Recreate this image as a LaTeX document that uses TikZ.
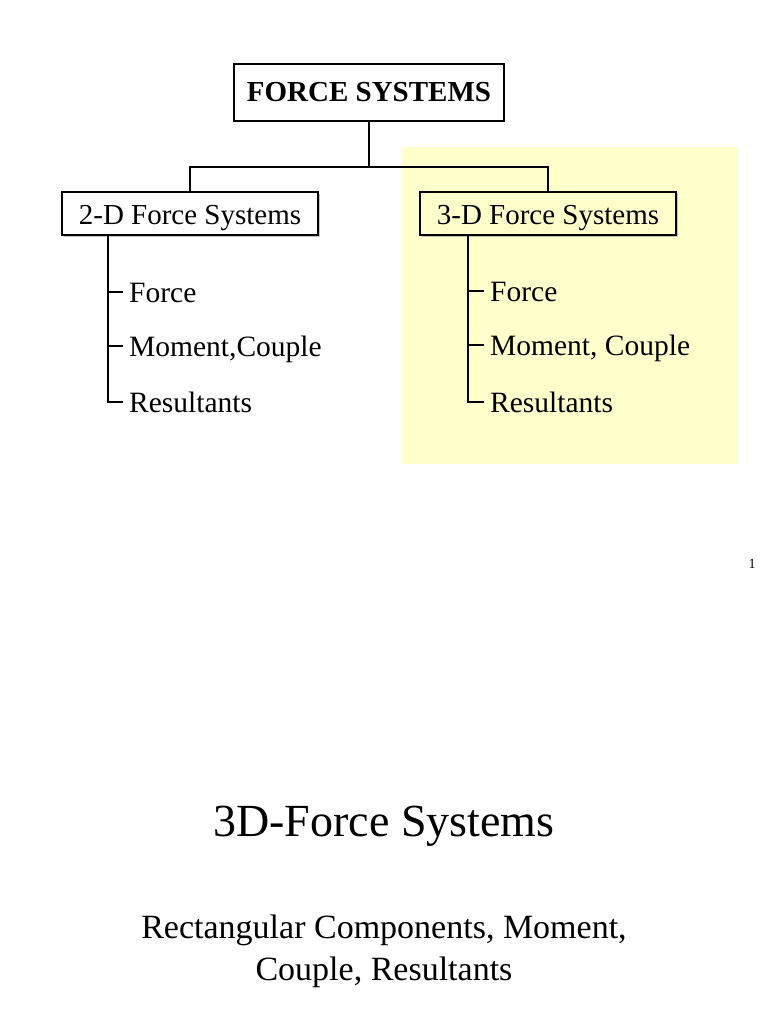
\documentclass[tikz,border=0pt]{standalone}
\usepackage{fontspec}
\setmainfont{Liberation Serif}
\usepackage{tikz}
\usetikzlibrary{positioning}
\usetikzlibrary{shadows}
\definecolor{yellowbg}{HTML}{FFFFCC}

\begin{document}
\begin{tikzpicture}[x=1pt, y=-1pt,
    head/.style={draw=black, line width=1.4pt, minimum width=270pt, minimum height=57pt, inner sep=0pt, font=\fontsize{29}{34}\selectfont\bfseries},
    sub/.style={draw=black, line width=1.4pt, minimum width=256pt, minimum height=43pt, inner sep=0pt, text height=22pt, text depth=0pt, font=\fontsize{29}{34}\selectfont, drop shadow={shadow xshift=2pt, shadow yshift=-2pt, fill=black!45}},
    item/.style={anchor=west, inner xsep=6pt, inner ysep=0pt, text height=20pt, text depth=0pt, font=\fontsize{29.5}{34}\selectfont},
    link/.style={line width=1.8pt},
  ]
    \useasboundingbox (0,0) rectangle (768,1024);
    \fill[yellowbg] (402,147) rectangle (738,464);
    \node[head] (T) at (369,92.5) {FORCE SYSTEMS};
    \node[sub, fill=white] (L) at (190,213.5) {2-D Force Systems};
    \node[sub, fill=yellowbg] (R) at (548,213.5) {3-D Force Systems};
    \node[item] (L1) at (123,292) {Force};
    \node[item] (L2) at (123,346) {Moment,Couple};
    \node[item] (L3) at (123,402) {Resultants};
    \node[item] (R1) at (484,291) {Force};
    \node[item] (R2) at (484,345) {Moment, Couple};
    \node[item] (R3) at (484,402) {Resultants};
    \coordinate (J) at (369,167);
    \coordinate (Lv) at (108,235.5);
    \coordinate (Rv) at (468,235.5);
    \draw[link] (T.south) -- (J);
    \draw[link] (J) -| (L.north);
    \draw[link] (J) -| (R.north);
    \draw[link] (Lv) |- (L3.west);
    \draw[link] (Lv |- L1.west) -- (L1.west);
    \draw[link] (Lv |- L2.west) -- (L2.west);
    \draw[link] (Rv) |- (R3.west);
    \draw[link] (Rv |- R1.west) -- (R1.west);
    \draw[link] (Rv |- R2.west) -- (R2.west);
    \node[anchor=base, font=\fontsize{14}{16}\selectfont] (P) at (752,568) {1};
    \node[anchor=base, font=\fontsize{46}{52}\selectfont] (H) at (384,836) {3D-Force Systems};
    \node[anchor=base, align=center, font=\fontsize{34}{42}\selectfont] (S) at (384,980) {Rectangular Components, Moment,\\ Couple, Resultants};
  \end{tikzpicture}
\end{document}
